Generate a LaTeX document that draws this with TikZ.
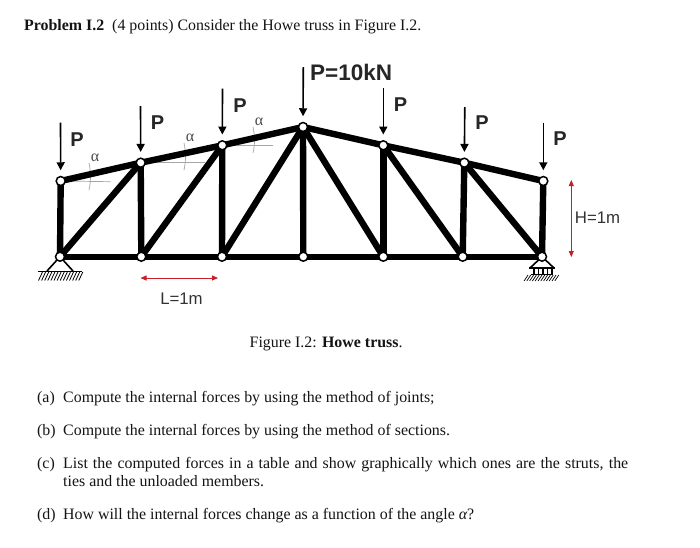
\documentclass[tikz,border=0pt]{standalone}
\usepackage{fontspec}
\setmainfont{Liberation Serif}
\newfontfamily\arial{Liberation Sans}
\usetikzlibrary{arrows.meta}
\definecolor{dimred}{RGB}{200,30,40}
\tikzset{
 member/.style={line width=6.4pt,black},
 joint/.style={circle,draw=black,fill=white,line width=1.5pt,minimum size=9pt,inner sep=0pt},
 load/.style={draw=black,line width=1.6pt,shorten >=5.5pt,-{Triangle[length=8pt,width=8pt]}},
 dim/.style={draw=dimred,line width=.8pt,{Triangle[length=6pt,width=5pt]}-{Triangle[length=6pt,width=5pt]}},
 plabel/.style={font=\arial\bfseries\fontsize{20}{20}\selectfont,inner sep=0pt,text=black!85},
 toplabel/.style={font=\arial\bfseries\fontsize{22.5}{22}\selectfont,inner sep=0pt,text=black!85},
 dimlabel/.style={font=\arial\fontsize{16.8}{17}\selectfont,inner sep=0pt,text=black!80},
 alphalabel/.style={font=\fontsize{16}{16}\selectfont,inner sep=0pt,text=black!70},
 aux/.style={draw=black!35,line width=.7pt},
 body/.style={font=\fontsize{15.9}{18}\selectfont,inner sep=0pt,anchor=base west,text=black!92},
}
\begin{document}
\begin{tikzpicture}[x=1pt,y=-1pt]
\useasboundingbox (0,0) rectangle (700,547);
\fill[white] (0,0) rectangle (700,547);
% joints
\coordinate (t1) at (60.7,181);
\coordinate (t2) at (140.7,162.7);
\coordinate (t3) at (222.3,145.3);
\coordinate (t4) at (303,127);
\coordinate (t5) at (383.3,145.3);
\coordinate (t6) at (464.3,162.7);
\coordinate (t7) at (543.3,181);
\coordinate (b1) at (60,256.7);
\coordinate (b2) at (141.3,256.7);
\coordinate (b3) at (222,256.7);
\coordinate (b4) at (303.3,256.7);
\coordinate (b5) at (383.3,256.7);
\coordinate (b6) at (462.7,256.7);
\coordinate (b7) at (542,256.7);
% angle helpers
\draw[aux] (t1) -- ++(50,0.7);
\draw[aux] (t2) -- ++(64,0);
\draw[aux] (t3) -- ++(51,0);
\draw[aux] (89,163) .. controls (91,172) and (91,181) .. (89,190);
\draw[aux] (184,143) .. controls (186,152) and (186,161) .. (184,170);
\draw[aux] (253,127) .. controls (255,136) and (255,145) .. (253,153);
% members
\draw[member,line cap=round] (b1)--(b7);
\draw[member] (t1)--(t2)--(t3)--(t4)--(t5)--(t6)--(t7);
\foreach \a/\b in {t1/b1,t2/b2,t3/b3,t4/b4,t5/b5,t6/b6,t7/b7,b1/t2,b2/t3,b3/t4,t4/b5,t5/b6,t6/b7}
  \draw[member] (\a)--(\b);
% supports
\draw[line width=1.6pt] (47,271)--(60,256.7)--(73,271);
\draw[line width=1.8pt] (38,271.5)--(82,271.5);
\foreach \i in {0,...,13} \draw[line width=.8pt] (38.5+\i*3.1,280.5)--(42.5+\i*3.1,272);
\draw[line width=1.6pt] (530,268)--(542,256.7)--(554,268);
\draw[line width=1.6pt] (529,268)--(555,268);
\draw[line width=1.6pt] (531,274.5)--(553,274.5);
\foreach \x in {534,538.5,543,547.5,552}\draw[line width=1.1pt] (\x,268)--(\x,274.5);
\foreach \i in {0,...,11} \draw[line width=.7pt] (524+\i*2.8,281)--(528+\i*2.8,275);
\foreach \c in {t1,t2,t3,t4,t5,t6,t7,b1,b2,b3,b4,b5,b6,b7}
  \node[joint] (n\c) at (\c) {};
% loads
\coordinate (l1) at (60.5,122.7);
\coordinate (l2) at (140.5,106);
\coordinate (l3) at (222.5,88.5);
\coordinate (l4) at (303.3,67);
\coordinate (l5) at (383.3,88);
\coordinate (l6) at (464.8,107);
\coordinate (l7) at (543.3,122.7);
\draw[load] (l1)--(nt1);
\draw[load] (l2)--(nt2);
\draw[load] (l3)--(nt3);
\draw[load] (l4)--(nt4);
\draw[load] (l5)--(nt5);
\draw[load] (l6)--(nt6);
\draw[load] (l7)--(nt7);
\node[plabel] (p1) at (77,140) {P};
\node[plabel] (p2) at (157.5,123) {P};
\node[plabel] (p3) at (240,105.5) {P};
\node[toplabel,anchor=west] (p4) at (310,72) {P=10kN};
\node[plabel] (p5) at (400.5,105) {P};
\node[plabel] (p6) at (482,123) {P};
\node[plabel] (p7) at (560,139) {P};
\node[alphalabel] (a1) at (95,158) {α};
\node[alphalabel] (a2) at (190,138) {α};
\node[alphalabel] (a3) at (259,121.5) {α};
% dimensions
\coordinate (d1) at (140.5,278);
\coordinate (d2) at (218,278);
\coordinate (d3) at (571.3,180);
\coordinate (d4) at (571.3,257);
\draw[dim] (d1)--(d2);
\draw[dim] (d3)--(d4);
\node[dimlabel] (L) at (181.5,299) {L=1m};
\node[dimlabel] (H) at (597.5,218) {H=1m};
% text
\node[body] (title) at (24,30) {\textbf{Problem I.2}\ \ (4 points) Consider the Howe truss in Figure I.2.};
\node[body] (cap) at (249.5,347) {Figure I.2: \textbf{Howe truss}.};
\node[body] (qa) at (37,402) {(a)};
\node[body] (qat) at (63,402) {Compute the internal forces by using the method of joints;};
\node[body] (qb) at (37,435) {(b)};
\node[body] (qbt) at (63,435) {Compute the internal forces by using the method of sections.};
\node[body] (qc) at (37,468) {(c)};
\node[body] (qct) at (63,468) {\hbox to 565pt{List the computed forces in a table and show graphically which ones are the struts, the}};
\node[body] (qc2) at (63,486) {ties and the unloaded members.};
\node[body] (qd) at (37,519) {(d)};
\node[body] (qdt) at (63,519) {How will the internal forces change as a function of the angle {\itshape α}?};
\end{tikzpicture}
\end{document}
